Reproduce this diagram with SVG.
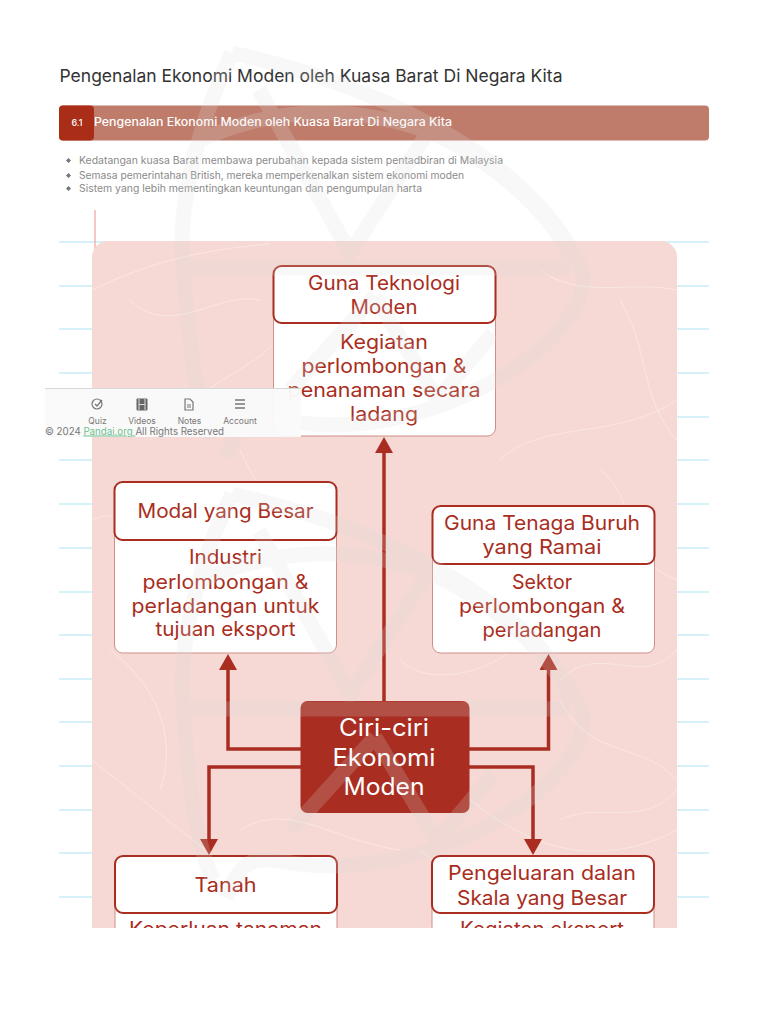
<svg xmlns="http://www.w3.org/2000/svg" width="768" height="1024" viewBox="0 0 768 1024">
<style>
text{font-family:"Inter","Noto Sans","Liberation Sans",sans-serif}
.b{stroke:#d7f1fb;stroke-width:2}
.c{fill:none;stroke:#a92d20;stroke-width:3.500}
.head{fill:#fff;stroke:#a92d20;stroke-width:2}
.body{fill:#fff;stroke:#cf8f88;stroke-width:1}
.t{font-size:20px;fill:#a92d20;text-anchor:middle}
.u{font-size:20px;fill:#a92d20;text-anchor:middle}
.w{font-size:24px;fill:#fff;text-anchor:middle}
.l{font-size:10.500px;fill:#8a8a8a}
.n{font-size:8.500px;fill:#777;text-anchor:middle}
.wm{fill:none;stroke:#ddd;stroke-width:15}
.ic{fill:none;stroke:#777;stroke-width:1.200}
.ct{fill:none;stroke:#fff;stroke-opacity:.35;stroke-width:1}
</style>
<defs>
<marker id="ah" markerUnits="userSpaceOnUse" markerWidth="16" markerHeight="18" refX="8" refY="9" orient="auto" viewBox="0 0 16 18"><path d="M16 9L0 0V18Z" fill="#a92d20"/></marker>
<clipPath id="page"><rect x="0" y="0" width="768" height="928"/></clipPath>
<g id="tile">
<path class="wm" d="M232 53C400 90 540 170 583 273C590 340 440 440 300 423C265 420 245 405 226 457"/>
<path class="wm" d="M232 53C195 130 175 220 184 273C188 340 195 400 213 439"/>
<path class="wm" d="M259 90L350 253L425 137M200 140C290 100 370 110 433 133C490 160 550 210 570 257"/>
<path class="wm" d="M184 268H570M375 296L290 390M375 296L437 400L493 333"/>
</g>
</defs>
<rect width="768" height="1024" fill="#fff"/>
<g clip-path="url(#page)">
<g id="ruled-lines">
<path class="b" d="M59 242H709M59 286H709M59 329H709M59 373H709M59 417H709M59 460H709M59 504H709M59 548H709M59 592H709M59 635H709M59 679H709M59 722H709M59 766H709M59 810H709M59 853H709M59 897H709"/>
<path d="M95 210V250" stroke="#f5b5b0" stroke-width="1.500"/>
</g>
<rect id="panel" x="92" y="241" width="585" height="720" rx="16" fill="#f6d9d4"/>
<g id="contours">
<path class="ct" d="M92 290C150 262 200 250 270 244M92 520C130 500 160 560 210 600C250 625 280 640 300 640M92 760C130 790 180 830 230 870M400 660C430 690 500 670 520 640M470 800C510 830 580 880 677 830M560 680C600 640 640 690 677 650M500 460C540 420 620 440 677 400M540 270C580 300 630 280 677 290M300 480C270 520 250 470 240 450M560 700C590 760 640 740 677 780M420 850C460 880 450 900 430 928M130 300C170 340 220 290 260 300M150 440C190 390 250 370 272 345M600 470C640 500 620 560 677 580M620 300C650 350 640 400 677 440M110 650C150 680 180 730 160 790M240 830C290 800 330 840 400 850M560 820C600 800 640 830 677 790"/>
</g>
<g id="connectors">
<path class="c" d="M384 702V445" marker-end="url(#ah)"/>
<path class="c" d="M301 749H228V662" marker-end="url(#ah)"/>
<path class="c" d="M469 749H548.500V662" marker-end="url(#ah)"/>
<path class="c" d="M301 767H209V847" marker-end="url(#ah)"/>
<path class="c" d="M469 767H533V847" marker-end="url(#ah)"/>
</g>
<g id="node-teknologi">
<rect class="body" x="273.500" y="300" width="222" height="136" rx="8"/>
<rect class="head" x="273.500" y="266" width="222" height="57" rx="8"/>
<text class="t" x="384" y="290" textLength="152" lengthAdjust="spacingAndGlyphs">Guna Teknologi</text>
<text class="t" x="384" y="314" textLength="67" lengthAdjust="spacingAndGlyphs">Moden</text>
<text class="u" x="384" y="349" textLength="88" lengthAdjust="spacingAndGlyphs">Kegiatan</text>
<text class="u" x="384" y="373" textLength="165" lengthAdjust="spacingAndGlyphs">perlombongan &amp;</text>
<text class="u" x="384" y="397" textLength="193" lengthAdjust="spacingAndGlyphs">penanaman secara</text>
<text class="u" x="384" y="421" textLength="68" lengthAdjust="spacingAndGlyphs">ladang</text>
</g>
<g id="node-modal">
<rect class="body" x="114.500" y="515" width="222" height="138" rx="8"/>
<rect class="head" x="114.500" y="482" width="222" height="58" rx="8"/>
<text class="t" x="225.500" y="518" textLength="176" lengthAdjust="spacingAndGlyphs">Modal yang Besar</text>
<text class="u" x="225.500" y="564" textLength="73" lengthAdjust="spacingAndGlyphs">Industri</text>
<text class="u" x="225.500" y="589" textLength="166" lengthAdjust="spacingAndGlyphs">perlombongan &amp;</text>
<text class="u" x="225.500" y="613" textLength="188" lengthAdjust="spacingAndGlyphs">perladangan untuk</text>
<text class="u" x="225.500" y="636" textLength="140" lengthAdjust="spacingAndGlyphs">tujuan eksport</text>
</g>
<g id="node-buruh">
<rect class="body" x="432.500" y="540" width="222" height="113" rx="8"/>
<rect class="head" x="432.500" y="506" width="222" height="58" rx="8"/>
<text class="t" x="542" y="530" textLength="196" lengthAdjust="spacingAndGlyphs">Guna Tenaga Buruh</text>
<text class="t" x="542" y="554" textLength="119" lengthAdjust="spacingAndGlyphs">yang Ramai</text>
<text class="u" x="542" y="589" textLength="60" lengthAdjust="spacingAndGlyphs">Sektor</text>
<text class="u" x="542" y="613" textLength="166" lengthAdjust="spacingAndGlyphs">perlombongan &amp;</text>
<text class="u" x="542" y="637" textLength="119" lengthAdjust="spacingAndGlyphs">perladangan</text>
</g>
<g id="node-ciri">
<rect x="300.500" y="701" width="169" height="112" rx="7" fill="#a92d20"/>
<text class="w" x="384" y="736" textLength="90" lengthAdjust="spacingAndGlyphs">Ciri-ciri</text>
<text class="w" x="384" y="766" textLength="103" lengthAdjust="spacingAndGlyphs">Ekonomi</text>
<text class="w" x="384" y="795" textLength="81" lengthAdjust="spacingAndGlyphs">Moden</text>
</g>
<g id="node-tanah">
<rect class="body" x="115" y="890" width="222" height="100" rx="8"/>
<rect class="head" x="115" y="856" width="222" height="57" rx="8"/>
<text class="t" x="225.500" y="892" textLength="62" lengthAdjust="spacingAndGlyphs">Tanah</text>
<text class="u" x="225.500" y="936" textLength="193" lengthAdjust="spacingAndGlyphs">Keperluan tanaman</text>
</g>
<g id="node-pengeluaran">
<rect class="body" x="432" y="890" width="222" height="100" rx="8"/>
<rect class="head" x="432" y="856" width="222" height="57" rx="8"/>
<text class="t" x="542" y="880" textLength="188" lengthAdjust="spacingAndGlyphs">Pengeluaran dalan</text>
<text class="t" x="542" y="905" textLength="170" lengthAdjust="spacingAndGlyphs">Skala yang Besar</text>
<text class="u" x="542" y="936" textLength="164" lengthAdjust="spacingAndGlyphs">Kegiatan eksport</text>
</g>
<g id="header">
<text x="59.500" y="82" font-size="17.500" fill="#333" textLength="503" lengthAdjust="spacingAndGlyphs">Pengenalan Ekonomi Moden oleh Kuasa Barat Di Negara Kita</text>
<rect x="59" y="105.500" width="650" height="35" rx="4" fill="#bf7c6b"/>
<rect x="59" y="105.500" width="35" height="35" rx="4" fill="#a92d17"/>
<text x="77" y="126" font-size="9" font-weight="500" fill="#fff" text-anchor="middle">6.1</text>
<text x="94" y="126" font-size="11.500" font-weight="500" fill="#fff" textLength="358" lengthAdjust="spacingAndGlyphs">Pengenalan Ekonomi Moden oleh Kuasa Barat Di Negara Kita</text>
<path d="M68.500 158l2.500 2.500-2.500 2.500-2.500-2.500zM68.500 173l2.500 2.500-2.500 2.500-2.500-2.500zM68.500 186l2.500 2.500-2.500 2.500-2.500-2.500z" fill="#777"/>
<text class="l" x="79" y="164" textLength="424" lengthAdjust="spacingAndGlyphs">Kedatangan kuasa Barat membawa perubahan kepada sistem pentadbiran di Malaysia</text>
<text class="l" x="79" y="179" textLength="385" lengthAdjust="spacingAndGlyphs">Semasa pemerintahan British, mereka memperkenalkan sistem ekonomi moden</text>
<text class="l" x="79" y="192" textLength="343" lengthAdjust="spacingAndGlyphs">Sistem yang lebih mementingkan keuntungan dan pengumpulan harta</text>
</g>
<g id="watermark" opacity=".2">
<use href="#tile"/>
<use href="#tile" y="441"/>
</g>
<g id="toolbar">
<rect x="45" y="388" width="256" height="49" fill="#fafafa" fill-opacity=".96"/>
<path d="M45 388.500H301" stroke="#d8d8d8"/>
<circle class="ic" cx="97" cy="404" r="5"/>
<path class="ic" d="M95 404l2 2 5-6"/>
<rect x="136.500" y="398.500" width="11" height="12" rx="1" fill="#666"/>
<path d="M139 399v11M145 399v11M139 404.500h6" stroke="#ddd" stroke-width="1"/>
<path class="ic" d="M185 399h5l3 3v8h-8z"/>
<path d="M187 405h4M187 407h4" stroke="#777"/>
<path d="M235 400h10M235 404h10M235 408h10" stroke="#777" stroke-width="1.300"/>
<text class="n" x="97.500" y="423.500">Quiz</text>
<text class="n" x="142" y="423.500">Videos</text>
<text class="n" x="189.500" y="423.500">Notes</text>
<text class="n" x="240" y="423.500">Account</text>
<text x="45" y="434.500" font-size="10" fill="#777" textLength="179" lengthAdjust="spacingAndGlyphs">© 2024 <tspan fill="#6fc08f" text-decoration="underline">Pandai.org </tspan>All Rights Reserved</text>
</g>
</g>
</svg>
